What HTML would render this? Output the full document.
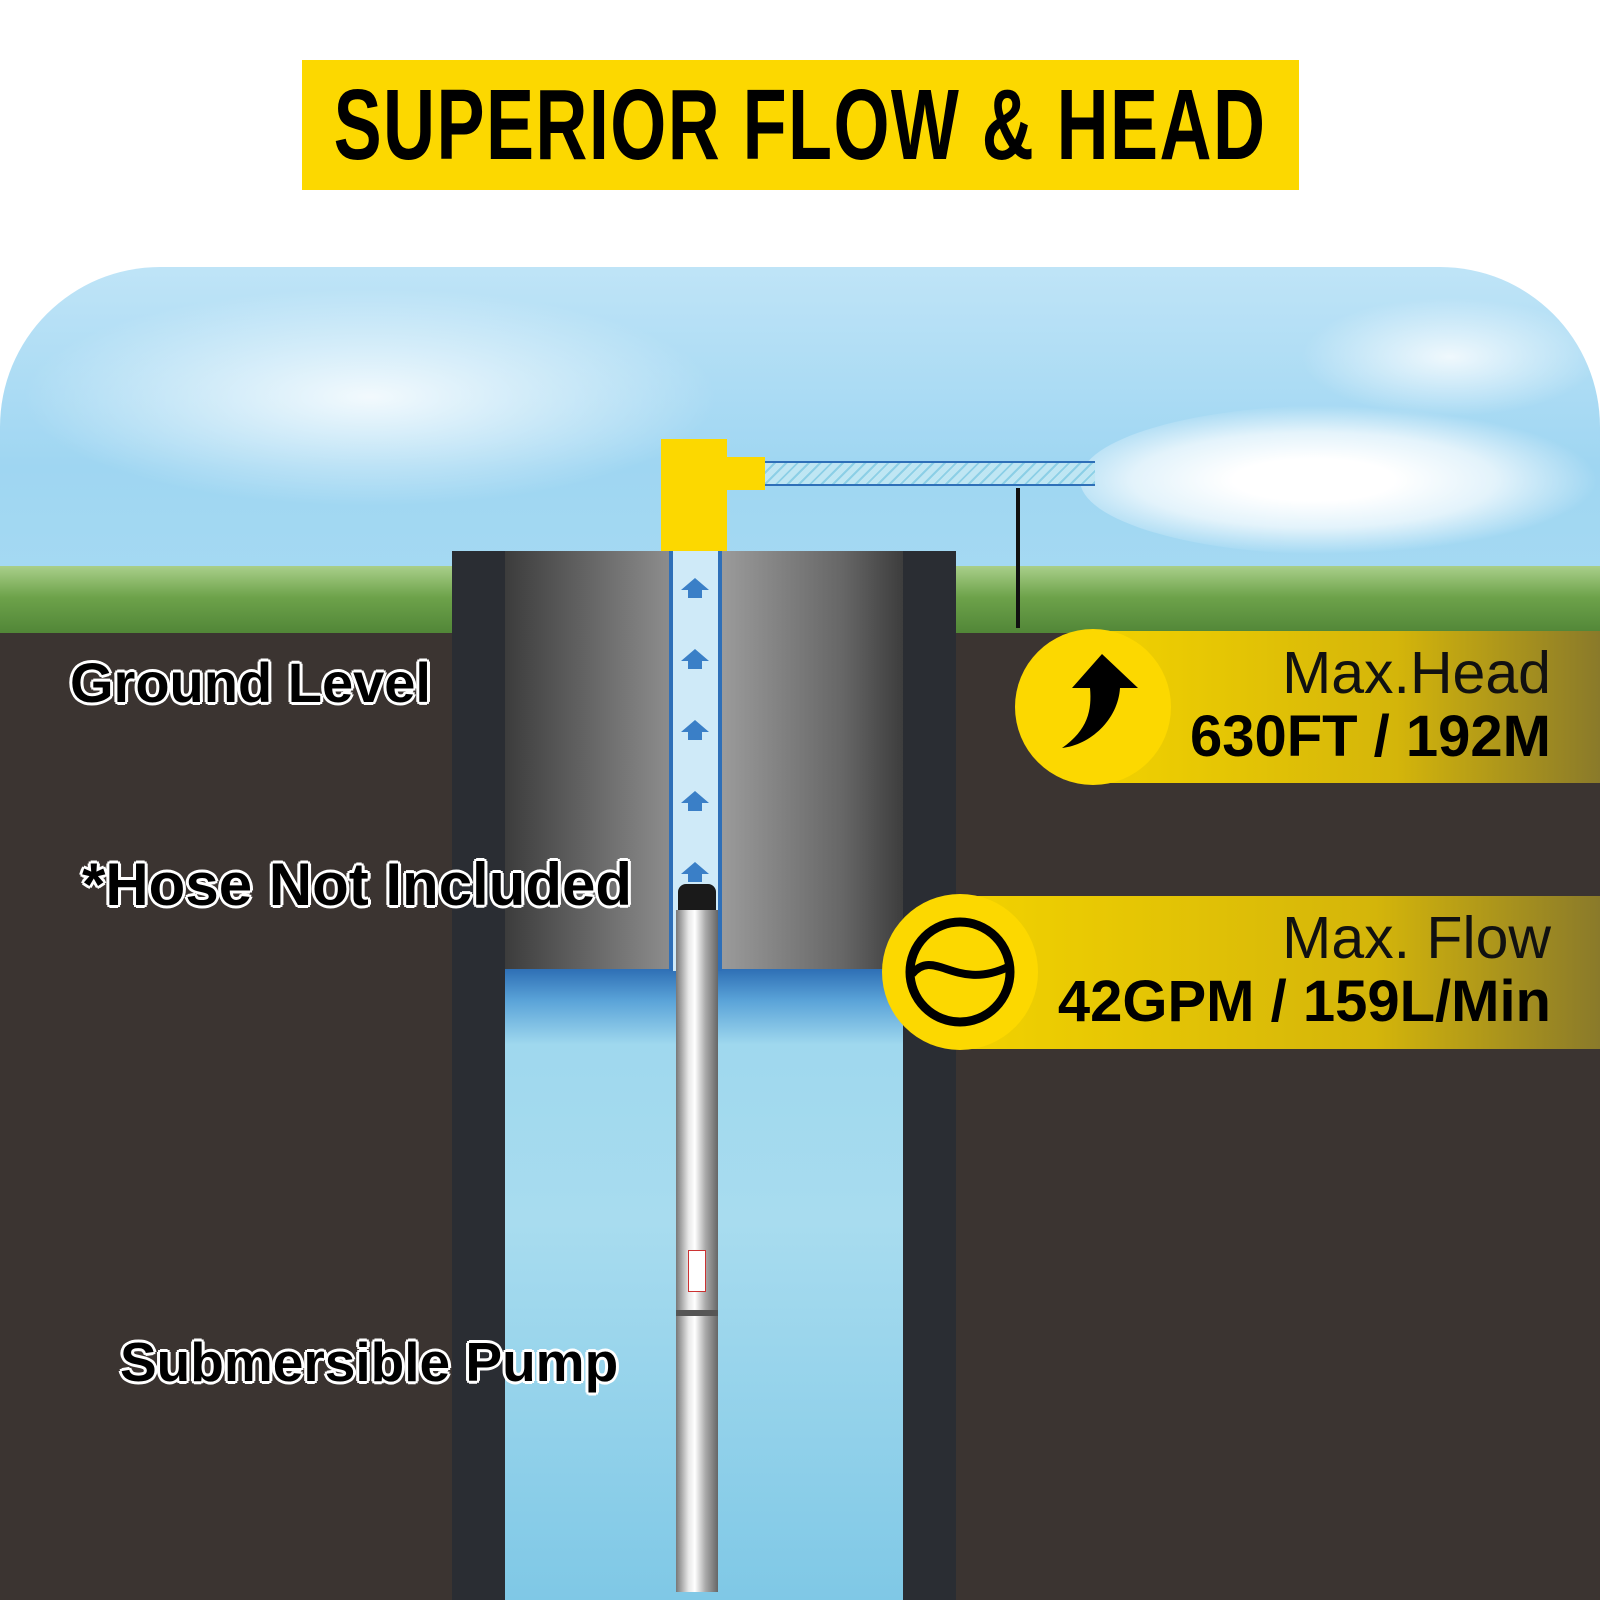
<!DOCTYPE html>
<html><head><meta charset="utf-8"><style>
html,body{margin:0;padding:0;width:1600px;height:1600px;overflow:hidden}
body{position:relative;background:#fff;font-family:"Liberation Sans",sans-serif}
.abs{position:absolute}
.lbl{position:absolute;font-weight:bold;color:#000;white-space:nowrap;text-shadow:2px 0 0 #fff,-2px 0 0 #fff,0 2px 0 #fff,0 -2px 0 #fff,2px 2px 0 #fff,-2px -2px 0 #fff,2px -2px 0 #fff,-2px 2px 0 #fff,3px 0 0 #fff,-3px 0 0 #fff,0 3px 0 #fff,0 -3px 0 #fff}
</style></head><body>
<div class="abs" style="left:0;top:267px;width:1600px;height:1333px;border-radius:160px 160px 0 0;background:linear-gradient(180deg,#bfe4f7 0%,#9fd6f2 15%,#a6daf3 25%,#c4e6f5 30%);overflow:hidden">
  <div class="abs" style="left:20px;top:20px;width:700px;height:220px;border-radius:50%;background:radial-gradient(ellipse,rgba(255,255,255,.85),rgba(255,255,255,0) 70%)"></div>
  <div class="abs" style="left:1300px;top:30px;width:300px;height:120px;border-radius:50%;background:radial-gradient(ellipse,rgba(255,255,255,.8),rgba(255,255,255,0) 70%)"></div>
</div>
<div class="abs" style="left:1080px;top:405px;width:520px;height:150px;border-radius:50%;background:radial-gradient(ellipse at 45% 50%,rgba(255,255,255,1) 20%,rgba(255,255,255,.7) 45%,rgba(255,255,255,0) 70%)"></div>
<div class="abs" style="left:0;top:566px;width:1600px;height:70px;background:linear-gradient(180deg,#a9cf8a 0%,#6da24a 45%,#4f8436 100%)"></div>
<div class="abs" style="left:0;top:633px;width:1600px;height:967px;background:#3b3431"></div>
<div class="abs" style="left:302px;top:60px;width:997px;height:130px;background:#fcd800"></div>
<div class="abs" style="left:0px;top:60px;width:1600px;height:130px;line-height:130px;text-align:center;font-weight:bold;font-size:100px;letter-spacing:2px;color:#000;white-space:nowrap;transform:scaleX(0.72);transform-origin:800px 50%">SUPERIOR FLOW &amp; HEAD</div>
<div class="abs" style="left:452px;top:551px;width:504px;height:1049px;background:#2a2d33"></div>
<div class="abs" style="left:505px;top:551px;width:398px;height:420px;background:linear-gradient(90deg,#3c3c3c 0%,#8a8a8a 40%,#9a9a9a 55%,#666 85%,#3d3d3d 100%)"></div>
<div class="abs" style="left:505px;top:969px;width:398px;height:631px;background:linear-gradient(180deg,#2e6fb5 0%,#5aa3d8 5%,#9fd8ee 12%,#a8dcef 40%,#7fc8e6 100%)"></div>
<div class="abs" style="left:669px;top:551px;width:45px;height:420px;background:#cfeaf8;border-left:4px solid #2e6fb8;border-right:4px solid #2e6fb8"></div>
<div class="abs" style="left:661px;top:439px;width:66px;height:112px;background:#fcd800"></div>
<div class="abs" style="left:727px;top:457px;width:38px;height:33px;background:#fcd800"></div>
<div class="abs" style="left:765px;top:461px;width:330px;height:21px;border-top:2px solid #2e6fb8;border-bottom:2px solid #2e6fb8;background:repeating-linear-gradient(135deg,#bfe6f3 0 6px,#8ccfe6 6px 8px)"></div>
<div class="abs" style="left:1016px;top:488px;width:4px;height:140px;background:#111"></div>
<svg class="abs" style="left:669px;top:560px" width="53" height="330">
<g fill="#3a7fc7">
<path d="M12 30 L26 18 L40 30 L33 30 L33 38 L19 38 L19 30Z"/>
<path d="M12 101 L26 89 L40 101 L33 101 L33 109 L19 109 L19 101Z"/>
<path d="M12 172 L26 160 L40 172 L33 172 L33 180 L19 180 L19 172Z"/>
<path d="M12 243 L26 231 L40 243 L33 243 L33 251 L19 251 L19 243Z"/>
<path d="M12 314 L26 302 L40 314 L33 314 L33 322 L19 322 L19 314Z"/>
</g></svg>
<div class="abs" style="left:678px;top:884px;width:38px;height:30px;background:#1a1a1a;border-radius:8px 8px 0 0"></div>
<div class="abs" style="left:676px;top:910px;width:42px;height:682px;background:linear-gradient(90deg,#777 0%,#e8e8e8 30%,#fff 45%,#aaa 70%,#666 100%)"></div>
<div class="abs" style="left:676px;top:1310px;width:42px;height:6px;background:#555"></div>
<div class="abs" style="left:688px;top:1250px;width:16px;height:40px;background:#fff;border:1px solid #c33"></div>
<div class="abs" style="left:1092px;top:631px;width:508px;height:152px;background:linear-gradient(90deg,#f2d200 0%,#d4b50a 60%,#8a7a2a 100%)"></div>
<div class="abs" style="left:1015px;top:629px;width:156px;height:156px;border-radius:50%;background:#fcd800"></div>
<svg class="abs" style="left:1040px;top:650px" width="110" height="110"><path d="M62 4 L98 38 L80 38 C78 70 50 95 22 98 C48 80 52 60 50 38 L32 38Z" fill="#000"/></svg>
<div class="abs" style="left:1100px;top:642px;width:451px;text-align:right;font-size:59px;line-height:62px;color:#111">Max.Head</div>
<div class="abs" style="left:1100px;top:705px;width:451px;text-align:right;font-size:58px;line-height:64px;font-weight:bold;color:#000">630FT / 192M</div>
<div class="abs" style="left:959px;top:896px;width:641px;height:153px;background:linear-gradient(90deg,#f2d200 0%,#d4b50a 65%,#8a7a2a 100%)"></div>
<div class="abs" style="left:882px;top:894px;width:156px;height:156px;border-radius:50%;background:#fcd800"></div>
<svg class="abs" style="left:900px;top:912px" width="120" height="120"><circle cx="60" cy="60" r="50" fill="none" stroke="#000" stroke-width="9"/><path d="M12 62 C35 35 55 80 108 55" fill="none" stroke="#000" stroke-width="8"/></svg>
<div class="abs" style="left:1000px;top:907px;width:551px;text-align:right;font-size:59px;line-height:62px;color:#111">Max. Flow</div>
<div class="abs" style="left:1000px;top:970px;width:551px;text-align:right;font-size:58px;line-height:64px;font-weight:bold;color:#000">42GPM / 159L/Min</div>
<div class="lbl" style="left:70px;top:650px;font-size:56px">Ground Level</div>
<div class="lbl" style="left:82px;top:850px;font-size:60px">*Hose Not Included</div>
<div class="lbl" style="left:120px;top:1330px;font-size:55px">Submersible Pump</div>
</body></html>
